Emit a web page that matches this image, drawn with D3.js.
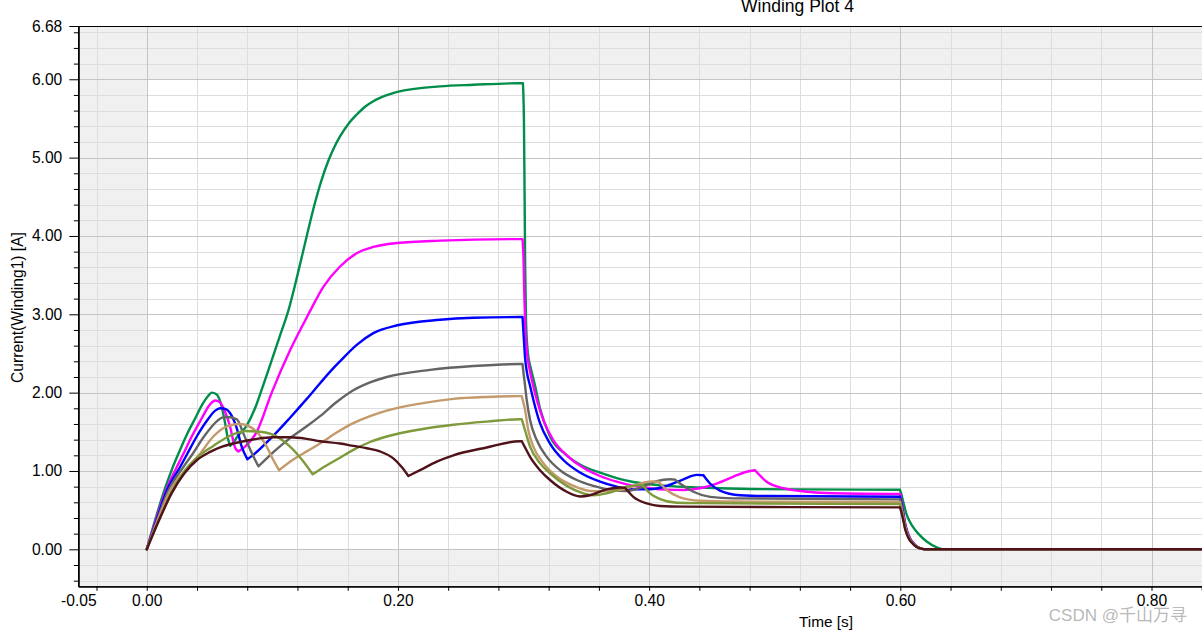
<!DOCTYPE html>
<html>
<head>
<meta charset="utf-8">
<script src="https://cdn.jsdelivr.net/npm/d3@7"></script>
<style>
  html, body { margin: 0; padding: 0; background: #ffffff; }
  svg { display: block; }
  text { font-family: Arial, "Liberation Sans", sans-serif; }
</style>
</head>
<body>
<svg id="chart" width="1202" height="634"></svg>
<script>
// ---------------- DATA ----------------
const chartTitle = "Winding Plot 4";
const xTitle = "Time [s]";
const yTitle = "Current(Winding1) [A]";
const watermark = "CSDN @千山万寻";

const xDomain = [-0.0545, 0.8402];
const yDomain = [-0.472, 6.68];
const xTickValues = [0, 0.2, 0.4, 0.6, 0.8];
const xTickLabels = ["0.00", "0.20", "0.40", "0.60", "0.80"];
const yTickValues = [0, 1, 2, 3, 4, 5, 6];
const yTickLabels = ["0.00", "1.00", "2.00", "3.00", "4.00", "5.00", "6.00"];
const xEdgeLabel = "-0.05";
const yEdgeLabel = "6.68";
const dataRangeX = [0, 1.0];
const dataRangeY = [0, 6];

const seriesNames = ["s1", "s2", "s3", "s4", "s5", "s6", "s7"];

// [time (s), current (A)]
const s1 = [[0,0],[0.0066,0.37],[0.0146,0.78],[0.0205,1.04],[0.0252,1.22],[0.0318,1.46],[0.0385,1.67],[0.0446,1.86],[0.049,1.96],[0.0517,2.0],[0.0555,1.98],[0.0597,1.82],[0.0625,1.6],[0.0645,1.42],[0.0665,1.32],[0.069,1.36],[0.0717,1.43],[0.0796,1.58],[0.0862,1.8],[0.0907,2.0],[0.0982,2.35],[0.1055,2.7],[0.1128,3.05],[0.12,3.5],[0.1274,4.0],[0.1339,4.42],[0.1393,4.72],[0.1446,4.96],[0.1492,5.13],[0.1539,5.27],[0.1605,5.43],[0.1672,5.55],[0.1738,5.65],[0.1804,5.72],[0.19,5.79],[0.1995,5.84],[0.2335,5.91],[0.26,5.93],[0.2972,5.95],[0.2995,5.95],[0.3003,5.5],[0.3008,4.6],[0.3013,3.6],[0.302,2.9],[0.3035,2.5],[0.306,2.3],[0.309,2.1],[0.3131,1.8],[0.3211,1.44],[0.3344,1.20],[0.3476,1.06],[0.3609,0.98],[0.3742,0.91],[0.3874,0.86],[0.4007,0.83],[0.414,0.81],[0.4405,0.79],[0.4803,0.77],[0.52,0.765],[0.5997,0.76],[0.6005,0.72],[0.6024,0.60],[0.6045,0.47],[0.6064,0.39],[0.6095,0.30],[0.6143,0.20],[0.621,0.10],[0.629,0.025],[0.634,0],[0.9,0]];
const s1Cusps = [0.0665, 0.2995, 0.5997, 0.634];

const s2 = [[0,0],[0.007,0.36],[0.0155,0.76],[0.0239,1.05],[0.0286,1.2],[0.0358,1.44],[0.043,1.65],[0.0504,1.85],[0.0544,1.90],[0.058,1.88],[0.0625,1.75],[0.0663,1.57],[0.0703,1.30],[0.073,1.25],[0.0783,1.31],[0.0876,1.5],[0.0995,2.0],[0.1141,2.54],[0.1287,3.0],[0.1406,3.35],[0.1539,3.61],[0.1672,3.78],[0.1804,3.86],[0.1995,3.91],[0.2335,3.94],[0.2972,3.96],[0.2992,3.96],[0.3,3.7],[0.3007,3.2],[0.3015,2.8],[0.3028,2.5],[0.3048,2.3],[0.3075,2.1],[0.3105,1.91],[0.3158,1.65],[0.3237,1.395],[0.3344,1.20],[0.3476,1.04],[0.3609,0.936],[0.3742,0.863],[0.3874,0.81],[0.4007,0.78],[0.414,0.762],[0.4273,0.757],[0.4405,0.78],[0.4538,0.84],[0.4671,0.927],[0.4777,0.99],[0.4843,1.01],[0.4936,0.863],[0.5069,0.78],[0.5255,0.735],[0.5467,0.715],[0.5997,0.706],[0.6012,0.59],[0.6025,0.47],[0.6038,0.34],[0.6055,0.235],[0.6077,0.145],[0.61,0.09],[0.613,0.04],[0.6175,0.006],[0.62,0],[0.9,0]];
const s2Cusps = [0.073, 0.2992, 0.4843, 0.5997, 0.62];

const s3 = [[0,0],[0.0075,0.36],[0.016,0.75],[0.0265,1.05],[0.0323,1.22],[0.0398,1.44],[0.0483,1.65],[0.0545,1.77],[0.0584,1.80],[0.063,1.79],[0.0663,1.74],[0.069,1.66],[0.0717,1.545],[0.0756,1.31],[0.0801,1.15],[0.0836,1.19],[0.1008,1.45],[0.1141,1.68],[0.1274,1.92],[0.138,2.12],[0.1473,2.29],[0.1539,2.40],[0.1672,2.61],[0.1804,2.76],[0.1995,2.86],[0.2335,2.93],[0.26,2.955],[0.2972,2.965],[0.2992,2.965],[0.3002,2.7],[0.3012,2.45],[0.3028,2.25],[0.305,2.1],[0.3078,1.91],[0.3131,1.61],[0.3211,1.35],[0.3317,1.14],[0.345,0.98],[0.3609,0.863],[0.3742,0.80],[0.3874,0.765],[0.4007,0.766],[0.414,0.81],[0.4273,0.894],[0.4379,0.95],[0.4432,0.945],[0.4485,0.84],[0.4564,0.75],[0.4724,0.69],[0.4936,0.68],[0.5997,0.672],[0.6012,0.56],[0.6025,0.44],[0.6038,0.32],[0.6055,0.22],[0.6077,0.135],[0.61,0.085],[0.613,0.037],[0.6175,0.005],[0.62,0],[0.9,0]];
const s3Cusps = [0.0801, 0.2992, 0.4432, 0.5997, 0.62];

const s4 = [[0,0],[0.008,0.36],[0.017,0.74],[0.0291,1.05],[0.0366,1.22],[0.0456,1.44],[0.0562,1.64],[0.06,1.68],[0.0637,1.69],[0.0717,1.66],[0.0769,1.48],[0.0836,1.23],[0.0889,1.06],[0.0955,1.16],[0.1008,1.24],[0.1141,1.42],[0.1274,1.57],[0.138,1.70],[0.1512,1.88],[0.1645,2.03],[0.1778,2.13],[0.1911,2.20],[0.2256,2.29],[0.26,2.34],[0.2972,2.365],[0.2992,2.365],[0.3,2.25],[0.301,2.12],[0.3025,1.91],[0.3052,1.65],[0.3105,1.395],[0.3185,1.18],[0.3291,1.01],[0.3424,0.885],[0.3556,0.81],[0.3689,0.757],[0.3822,0.745],[0.3954,0.80],[0.406,0.87],[0.4166,0.895],[0.4206,0.89],[0.4246,0.84],[0.4352,0.735],[0.4485,0.67],[0.467,0.65],[0.5997,0.638],[0.6012,0.53],[0.6025,0.42],[0.6038,0.31],[0.6055,0.21],[0.6077,0.13],[0.61,0.08],[0.613,0.035],[0.6175,0.005],[0.62,0],[0.9,0]];
const s4Cusps = [0.0889, 0.2992, 0.4206, 0.5997, 0.62];

const s5 = [[0,0],[0.0085,0.36],[0.018,0.73],[0.0331,1.05],[0.0424,1.22],[0.053,1.44],[0.0637,1.57],[0.0743,1.60],[0.0876,1.50],[0.0955,1.31],[0.1008,1.14],[0.1053,1.01],[0.1161,1.14],[0.1274,1.25],[0.138,1.35],[0.1512,1.49],[0.1645,1.61],[0.1778,1.70],[0.1911,1.77],[0.2176,1.86],[0.2441,1.92],[0.2707,1.945],[0.2972,1.955],[0.2986,1.955],[0.3012,1.78],[0.3038,1.52],[0.3078,1.31],[0.3158,1.10],[0.3264,0.93],[0.3397,0.81],[0.3529,0.745],[0.3662,0.74],[0.3822,0.78],[0.3954,0.85],[0.4034,0.865],[0.4075,0.862],[0.414,0.757],[0.4246,0.664],[0.4405,0.62],[0.467,0.61],[0.5997,0.604],[0.6012,0.50],[0.6025,0.40],[0.6038,0.29],[0.6055,0.20],[0.6077,0.12],[0.61,0.078],[0.613,0.034],[0.6175,0.005],[0.62,0],[0.9,0]];
const s5Cusps = [0.1053, 0.2986, 0.4075, 0.5997, 0.62];

const s6 = [[0,0],[0.01,0.38],[0.02,0.74],[0.03,1.0],[0.04,1.17],[0.053,1.32],[0.0663,1.45],[0.0796,1.51],[0.09,1.5],[0.1008,1.46],[0.1141,1.31],[0.1247,1.12],[0.1321,0.957],[0.138,1.02],[0.1539,1.17],[0.1645,1.27],[0.1778,1.37],[0.1911,1.44],[0.2176,1.53],[0.2441,1.59],[0.2707,1.63],[0.2972,1.66],[0.2986,1.66],[0.3012,1.52],[0.3052,1.31],[0.3131,1.10],[0.3211,0.97],[0.3344,0.81],[0.3476,0.715],[0.3556,0.69],[0.3662,0.715],[0.3822,0.80],[0.3927,0.82],[0.395,0.815],[0.4007,0.715],[0.4087,0.64],[0.422,0.595],[0.4405,0.59],[0.5997,0.578],[0.6012,0.48],[0.6025,0.38],[0.6038,0.28],[0.6055,0.19],[0.6077,0.115],[0.61,0.075],[0.613,0.033],[0.6175,0.005],[0.62,0],[0.9,0]];
const s6Cusps = [0.1321, 0.2986, 0.395, 0.5997, 0.62];

const s7 = [[0,0],[0.01,0.38],[0.02,0.72],[0.03,0.97],[0.04,1.14],[0.05,1.24],[0.06,1.31],[0.0743,1.37],[0.0876,1.41],[0.1008,1.43],[0.1141,1.43],[0.1274,1.41],[0.138,1.38],[0.1539,1.35],[0.1645,1.32],[0.1752,1.29],[0.1857,1.25],[0.1963,1.16],[0.203,1.05],[0.2083,0.936],[0.2176,1.01],[0.2309,1.12],[0.2441,1.20],[0.2707,1.30],[0.2972,1.38],[0.2986,1.38],[0.3012,1.30],[0.3052,1.18],[0.3131,1.01],[0.3211,0.885],[0.3344,0.735],[0.345,0.675],[0.3529,0.69],[0.3662,0.766],[0.3768,0.79],[0.3808,0.785],[0.3874,0.67],[0.3981,0.587],[0.4087,0.553],[0.4273,0.545],[0.5997,0.536],[0.6012,0.45],[0.6025,0.36],[0.6038,0.26],[0.6055,0.18],[0.6077,0.11],[0.61,0.07],[0.613,0.03],[0.6175,0.005],[0.62,0],[0.9,0]];
const s7Cusps = [0.2083, 0.2986, 0.3808, 0.5997, 0.62];

const seriesData = [s1, s2, s3, s4, s5, s6, s7];
const seriesCusps = [s1Cusps, s2Cusps, s3Cusps, s4Cusps, s5Cusps, s6Cusps, s7Cusps];
const seriesColors = ["#008E4A", "#FF00FF", "#0000FF", "#646464", "#C49A6C", "#7E9A3A", "#4F1319"];

// ---------------- DRAW ----------------
const plot = { left: 78.3, right: 1202, top: 26, bottom: 586.3 };

const svg = d3.select("#chart");
const x = d3.scaleLinear().domain(xDomain).range([plot.left, plot.right]);
const y = d3.scaleLinear().domain(yDomain).range([plot.bottom, plot.top]);

svg.append("defs").append("clipPath").attr("id", "clip")
  .append("rect").attr("x", plot.left).attr("y", plot.top)
  .attr("width", plot.right - plot.left).attr("height", plot.bottom - plot.top);

const g = svg.append("g").attr("clip-path", "url(#clip)");

g.append("rect").attr("x", plot.left).attr("y", plot.top)
  .attr("width", plot.right - plot.left).attr("height", plot.bottom - plot.top)
  .attr("fill", "#f0f0f0");
g.append("rect")
  .attr("x", x(dataRangeX[0])).attr("y", y(dataRangeY[1]))
  .attr("width", x(dataRangeX[1]) - x(dataRangeX[0]))
  .attr("height", y(dataRangeY[0]) - y(dataRangeY[1]))
  .attr("fill", "#ffffff");

const xMinor = d3.range(-0.04, 0.86, 0.04).map(v => +v.toFixed(2));
const yMinor = d3.range(-0.4, 6.7, 0.2).map(v => +v.toFixed(1));
const isMajorX = v => Math.abs(v / 0.2 - Math.round(v / 0.2)) < 1e-6;
const isMajorY = v => Math.abs(v - Math.round(v)) < 1e-6;
g.selectAll(".gxm").data(xMinor.filter(v => !isMajorX(v)))
  .enter().append("line")
  .attr("x1", d => Math.round(x(d)) + 0.5).attr("x2", d => Math.round(x(d)) + 0.5)
  .attr("y1", plot.top).attr("y2", plot.bottom)
  .attr("stroke", "#dddddd").attr("stroke-width", 1);
g.selectAll(".gym").data(yMinor.filter(v => !isMajorY(v)))
  .enter().append("line")
  .attr("y1", d => Math.round(y(d)) + 0.5).attr("y2", d => Math.round(y(d)) + 0.5)
  .attr("x1", plot.left).attr("x2", plot.right)
  .attr("stroke", "#dddddd").attr("stroke-width", 1);
g.selectAll(".gxM").data(xTickValues).enter().append("line")
  .attr("x1", d => Math.round(x(d)) + 0.5).attr("x2", d => Math.round(x(d)) + 0.5)
  .attr("y1", plot.top).attr("y2", plot.bottom)
  .attr("stroke", "#c4c4c4").attr("stroke-width", 1);
g.selectAll(".gyM").data(yTickValues).enter().append("line")
  .attr("y1", d => Math.round(y(d)) + 0.5).attr("y2", d => Math.round(y(d)) + 0.5)
  .attr("x1", plot.left).attr("x2", plot.right)
  .attr("stroke", "#c4c4c4").attr("stroke-width", 1);

const line = d3.line().x(d => x(d[0])).y(d => y(d[1])).curve(d3.curveMonotoneX);
function pieces(pts, cusps) {
  const out = [];
  let cur = [];
  pts.forEach(p => {
    cur.push(p);
    if (cusps.some(c => Math.abs(c - p[0]) < 1e-9)) {
      out.push(cur);
      cur = [p];
    }
  });
  if (cur.length > 1) out.push(cur);
  return out;
}
seriesData.forEach((pts, i) => {
  const d = pieces(pts, seriesCusps[i]).map(p => line(p)).join("");
  g.append("path")
    .attr("d", d)
    .attr("fill", "none")
    .attr("stroke", seriesColors[i])
    .attr("stroke-width", 2.4)
    .attr("stroke-linejoin", "round")
    .attr("stroke-linecap", "round");
});

svg.append("line").attr("x1", plot.left).attr("x2", plot.right)
  .attr("y1", plot.top + 0.5).attr("y2", plot.top + 0.5).attr("stroke", "#000").attr("stroke-width", 1);

const yAxis = d3.axisLeft(y).tickValues(yTickValues).tickSize(9).tickSizeOuter(0)
  .tickFormat((d, i) => yTickLabels[i]);
svg.append("g").attr("class", "yax").attr("transform", `translate(${plot.left},0)`).call(yAxis);
const yMinorAxis = d3.axisLeft(y).tickValues(yMinor.filter(v => !isMajorY(v)))
  .tickSize(4.5).tickSizeOuter(0).tickFormat("");
svg.append("g").attr("class", "yax").attr("transform", `translate(${plot.left},0)`).call(yMinorAxis);
const yEdge = d3.axisLeft(y).tickValues([yDomain[1]]).tickSize(9).tickSizeOuter(0).tickFormat(() => yEdgeLabel);
svg.append("g").attr("class", "yax").attr("transform", `translate(${plot.left},0)`).call(yEdge);

const xAxis = d3.axisBottom(x).tickValues(xMinor).tickSize(4.5).tickSizeOuter(0)
  .tickFormat(d => {
    const k = xTickValues.findIndex(v => Math.abs(v - d) < 1e-6);
    return k >= 0 ? xTickLabels[k] : "";
  });
svg.append("g").attr("class", "xax").attr("transform", `translate(0,${plot.bottom})`).call(xAxis);
const xEdge = d3.axisBottom(x).tickValues([xDomain[0]]).tickSize(0).tickSizeOuter(0).tickFormat(() => xEdgeLabel);
svg.append("g").attr("class", "xax").attr("transform", `translate(0,${plot.bottom})`).call(xEdge);

svg.selectAll(".domain").attr("stroke", "#000").attr("stroke-width", 1.2);
svg.selectAll(".tick line").attr("stroke", "#000");
svg.selectAll(".tick text").attr("fill", "#000").style("font-size", "15.6px")
  .style("font-family", "Arial, 'Liberation Sans', sans-serif");
svg.selectAll(".yax .tick text").attr("x", -16);
svg.selectAll(".xax .tick text").attr("y", 9);

svg.append("text").attr("x", 797.5).attr("y", 12).attr("text-anchor", "middle")
  .style("font-size", "17.5px").attr("fill", "#000").text(chartTitle);
svg.append("text").attr("x", 826).attr("y", 627).attr("text-anchor", "middle")
  .style("font-size", "15.4px").attr("fill", "#000").text(xTitle);
svg.append("text").attr("transform", "translate(23,307.5) rotate(-90)").attr("text-anchor", "middle")
  .style("font-size", "15.6px").attr("fill", "#000").text(yTitle);

svg.append("text").attr("x", 1187).attr("y", 621).attr("text-anchor", "end")
  .style("font-size", "17px").style("font-family", "Arial, 'Noto Sans CJK SC', sans-serif")
  .attr("fill", "#b0b0b0").attr("fill-opacity", 0.9).text(watermark);
</script>
</body>
</html>
